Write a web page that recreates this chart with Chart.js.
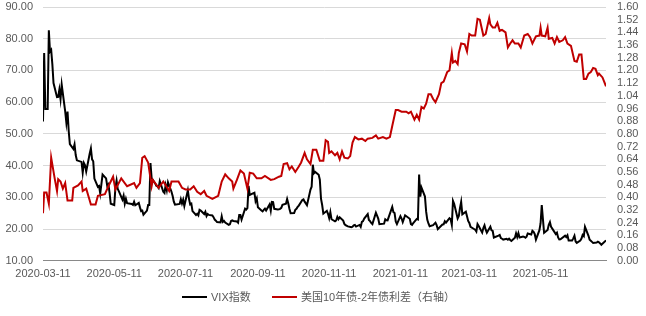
<!DOCTYPE html>
<html>
<head>
<meta charset="utf-8">
<script src="https://cdn.jsdelivr.net/npm/chart.js@4.4.1/dist/chart.umd.min.js"></script>
<style>
  html, body { margin: 0; padding: 0; background: #ffffff; }
  #wrap { position: relative; width: 646px; height: 316px; }
  #legend { position: absolute; left: 0; top: 290px; width: 646px; height: 14px;
            font: 11px 'Liberation Sans', 'Noto Sans CJK SC', sans-serif; color: #595959; }
  .item { position: absolute; top: 0; height: 14px; line-height: 14px; white-space: nowrap; }
  .swatch { display: inline-block; width: 25px; height: 2px; vertical-align: middle; margin-right: 4px; position: relative; top: -1px; }
</style>
</head>
<body>
<div id="wrap"><canvas id="c" width="646" height="316"></canvas><div id="legend"></div></div>
<script>
// ---- data (x = days since start date) ----
const startDate = '2020-03-11';
const endDay = 482;
const xTickLabels = ['2020-03-11','2020-05-11','2020-07-11','2020-09-11','2020-11-11','2021-01-11','2021-03-11','2021-05-11'];
const leftTicks = [10,20,30,40,50,60,70,80,90];
const rightTicks = [0,0.08,0.16,0.24,0.32,0.40,0.48,0.56,0.64,0.72,0.80,0.88,0.96,1.04,1.12,1.20,1.28,1.36,1.44,1.52,1.60];
const seriesNames = ['VIX指数', '美国10年债-2年债利差（右轴）'];
const seriesColors = ['#000000', '#C00000'];

const vixDays = [0,1,2,4,5,6,7,8,9,12,13,14,15,16,19,20,21,22,23,26,27,28,29,33,34,35,36,37,40,41,42,43,44,47,48,49,50,51,54,55,56,57,58,61,62,63,64,65,68,69,70,71,72,76,77,78,79,82,83,84,85,86,89,90,91,92,93,96,97,98,99,100,103,104,105,106,107,110,111,112,113,117,118,119,120,121,124,125,126,127,128,131,132,133,134,135,138,139,140,141,142,145,146,147,148,149,152,153,154,155,156,159,160,161,162,163,166,167,168,169,170,173,174,175,176,177,181,182,183,184,187,188,189,190,191,194,195,196,197,198,201,202,203,204,205,208,209,210,211,212,215,216,217,218,219,222,223,224,225,226,229,230,231,232,233,236,237,238,239,240,243,244,245,246,247,250,251,252,253,254,257,258,259,261,264,265,266,267,268,271,272,273,274,275,278,279,280,281,282,285,286,287,288,292,293,294,295,299,300,301,302,303,306,307,308,309,310,314,315,316,317,320,321,322,323,324,327,328,329,330,331,334,335,336,337,338,342,343,344,345,348,349,350,351,352,355,356,357,358,359,362,363,364,365,366,369,370,371,372,373,376,377,378,379,380,383,384,385,386,390,391,392,393,394,397,398,399,400,401,404,405,406,407,408,411,412,413,414,415,418,419,420,421,422,425,426,427,428,429,432,433,434,435,436,439,440,441,442,443,447,448,449,450,453,454,455,456,457,460,461,462,463,464,467,468,469,470,471,474,475,476,477,478,482];
const vixValues = [53.90,75.47,57.83,57.83,82.69,75.91,76.45,72.00,66.04,61.59,61.67,63.95,61.00,65.54,57.08,53.54,57.06,50.91,46.80,45.24,46.70,43.35,41.67,41.17,37.76,40.84,40.11,38.15,43.83,45.41,41.98,41.38,35.93,33.29,33.57,31.23,34.15,37.19,35.97,33.61,34.12,31.44,27.98,27.57,33.04,35.28,32.61,31.89,29.30,30.53,27.99,29.53,28.16,27.91,27.62,28.59,27.51,28.23,26.84,25.66,25.81,24.52,25.81,27.57,27.57,40.79,36.09,34.40,33.67,33.47,32.94,35.12,31.77,31.37,33.84,32.22,34.73,31.78,30.43,28.62,27.68,27.94,29.43,28.08,29.26,27.29,32.19,29.52,27.76,28.00,25.68,24.46,24.84,24.32,26.08,25.84,24.74,25.44,24.10,24.76,24.46,24.28,23.76,22.99,22.65,22.21,22.13,24.03,22.28,22.59,22.05,21.35,21.51,22.54,22.72,22.54,22.37,22.03,24.47,24.47,22.96,26.41,26.12,26.57,33.60,30.75,31.46,28.81,29.71,26.87,25.85,25.59,26.04,26.46,25.83,27.78,25.79,28.58,28.51,26.38,26.19,26.27,26.37,26.70,27.63,27.96,29.48,28.06,26.36,25.00,25.07,26.07,26.40,26.97,27.41,29.18,29.35,28.65,28.11,27.55,32.46,33.35,40.28,37.59,38.02,37.13,35.55,29.57,27.58,24.86,25.75,24.80,23.45,25.35,23.10,22.45,22.71,23.84,23.11,23.70,22.66,21.64,21.25,20.84,20.57,20.77,21.17,21.28,20.79,21.30,20.68,22.27,22.52,23.31,24.72,22.89,22.50,21.93,21.57,25.16,24.23,23.31,21.53,21.70,23.08,22.77,22.75,26.97,25.34,25.07,22.37,21.56,24.08,23.33,22.21,23.25,24.34,23.24,21.58,21.32,21.91,23.19,23.02,37.21,30.21,33.09,30.24,25.56,22.91,21.77,20.87,21.24,21.63,21.99,21.25,19.97,21.46,21.50,22.49,22.05,23.45,23.11,21.34,28.89,27.95,23.35,24.10,26.67,28.57,24.66,25.47,24.03,22.56,21.91,20.69,20.03,19.79,19.23,21.58,20.95,18.88,20.30,21.20,19.81,18.86,20.74,19.61,19.40,17.33,17.91,18.12,17.16,16.95,16.69,16.91,16.65,16.99,16.57,16.25,17.30,18.68,17.50,18.71,17.33,17.64,17.56,17.28,17.61,18.61,18.31,19.48,19.15,18.39,16.69,19.66,21.84,27.59,23.13,18.81,19.72,21.34,22.18,20.67,20.15,18.40,18.84,17.36,16.74,16.76,17.90,17.48,18.04,16.42,16.42,17.07,17.89,16.10,15.65,16.39,17.02,18.15,17.75,20.70,17.89,16.66,16.32,15.97,15.62,15.76,16.02,15.83,15.48,15.07,16.44];

const spreadDays = [0,1,3,5,7,10,12,13,15,17,19,21,25,26,30,33,34,37,40,41,45,47,53,56,60,62,67,72,78,80,83,85,87,90,93,94,99,103,108,110,116,119,122,126,129,132,135,138,140,145,150,153,156,159,162,163,166,169,172,175,177,180,183,187,190,195,198,202,204,206,209,211,213,216,219,221,224,226,229,231,234,237,240,242,244,245,247,250,252,254,256,258,261,263,265,267,270,273,276,278,282,285,287,291,294,297,299,302,304,307,311,313,315,318,320,322,324,326,328,330,332,334,336,339,341,343,346,348,350,351,353,355,356,358,361,363,365,367,370,372,374,377,379,382,383,385,387,389,391,393,396,398,400,402,404,407,409,412,415,417,419,422,425,426,427,430,432,433,436,438,440,442,445,447,449,452,455,457,459,461,463,465,467,469,471,473,475,476,479,482];
const spreadValues = [0.30,0.43,0.43,0.36,0.65,0.52,0.44,0.515,0.50,0.455,0.49,0.38,0.38,0.46,0.475,0.50,0.44,0.455,0.38,0.355,0.355,0.41,0.42,0.47,0.53,0.45,0.52,0.47,0.49,0.46,0.49,0.65,0.66,0.62,0.47,0.51,0.46,0.50,0.44,0.50,0.50,0.46,0.45,0.45,0.47,0.435,0.42,0.44,0.41,0.39,0.41,0.50,0.545,0.52,0.50,0.455,0.51,0.57,0.55,0.455,0.555,0.55,0.52,0.52,0.535,0.51,0.515,0.53,0.535,0.61,0.615,0.577,0.595,0.56,0.595,0.62,0.68,0.64,0.61,0.70,0.70,0.63,0.63,0.76,0.75,0.68,0.69,0.665,0.68,0.64,0.69,0.65,0.645,0.66,0.745,0.78,0.765,0.77,0.755,0.77,0.775,0.79,0.77,0.78,0.77,0.78,0.85,0.95,0.95,0.94,0.94,0.93,0.94,0.89,0.92,0.89,0.97,0.96,0.99,1.05,1.05,1.02,1.00,1.05,1.12,1.13,1.19,1.20,1.31,1.25,1.26,1.24,1.31,1.37,1.365,1.32,1.43,1.42,1.42,1.525,1.52,1.42,1.43,1.53,1.49,1.47,1.47,1.50,1.45,1.456,1.44,1.345,1.37,1.39,1.37,1.37,1.345,1.42,1.43,1.41,1.37,1.415,1.42,1.47,1.42,1.415,1.47,1.40,1.405,1.37,1.41,1.38,1.39,1.41,1.37,1.355,1.26,1.255,1.30,1.30,1.146,1.146,1.18,1.19,1.215,1.21,1.17,1.18,1.156,1.10];

// ---- helpers ----
const DAY = 86400000;
const start = Date.parse(startDate + 'T00:00:00Z');
const dayOf = s => Math.round((Date.parse(s + 'T00:00:00Z') - start) / DAY);
const xTickDays = xTickLabels.map(dayOf);
const labelOf = d => new Date(start + d * DAY).toISOString().slice(0, 10);
const pts = (xs, ys) => xs.map((x, i) => ({ x: x, y: ys[i] }));

const FONT = "'Liberation Sans', 'Noto Sans CJK SC', sans-serif";
const TXT = '#595959';
const fitV = w => s => { s.width = w; s.paddingTop = 7; s.paddingBottom = 0; };

// HTML legend (real text)
const legendLefts = [182, 272];
const legendEl = document.getElementById('legend');
seriesNames.forEach((name, i) => {
  const it = document.createElement('div');
  it.className = 'item';
  it.style.left = legendLefts[i] + 'px';
  const sw = document.createElement('span');
  sw.className = 'swatch';
  sw.style.background = seriesColors[i];
  it.appendChild(sw);
  it.appendChild(document.createTextNode(name));
  legendEl.appendChild(it);
});

new Chart(document.getElementById('c'), {
  type: 'line',
  data: {
    datasets: [
      { label: seriesNames[0], data: pts(vixDays, vixValues), yAxisID: 'y',
        borderColor: seriesColors[0], backgroundColor: seriesColors[0], borderWidth: 2,
        pointRadius: 0, tension: 0, order: 1 },
      { label: seriesNames[1], data: pts(spreadDays, spreadValues), yAxisID: 'y1',
        borderColor: seriesColors[1], backgroundColor: seriesColors[1], borderWidth: 2,
        pointRadius: 0, tension: 0, order: 0 }
    ]
  },
  options: {
    responsive: false,
    animation: false,
    events: [],
    layout: { padding: { left: 0, right: 0, top: 0, bottom: 28 } },
    plugins: {
      tooltip: { enabled: false },
      legend: { display: false }
    },
    scales: {
      x: {
        type: 'linear', min: 0, max: endDay,
        afterBuildTicks: s => { s.ticks = xTickDays.map(v => ({ value: v })); },
        ticks: { color: TXT, font: { family: FONT, size: 11 }, padding: 7, maxRotation: 0, autoSkip: false,
                 callback: v => labelOf(v) },
        grid: { display: false, drawTicks: false },
        border: { display: true, color: '#898989', width: 1 }
      },
      y: {
        position: 'left', min: 10, max: 90,
        afterBuildTicks: s => { s.ticks = leftTicks.map(v => ({ value: v })); },
        afterFit: fitV(43),
        ticks: { color: TXT, font: { family: FONT, size: 11 }, padding: 10, autoSkip: false,
                 callback: v => Number(v).toFixed(2) },
        grid: { color: '#D9D9D9', lineWidth: 1, drawTicks: false },
        border: { display: false }
      },
      y1: {
        position: 'right', min: 0, max: 1.6,
        afterBuildTicks: s => { s.ticks = rightTicks.map(v => ({ value: v })); },
        afterFit: fitV(40),
        ticks: { color: TXT, font: { family: FONT, size: 11 }, padding: 11, autoSkip: false,
                 callback: v => Number(v).toFixed(2) },
        grid: { display: false, drawTicks: false },
        border: { display: false }
      }
    }
  }
});
</script>
</body>
</html>
